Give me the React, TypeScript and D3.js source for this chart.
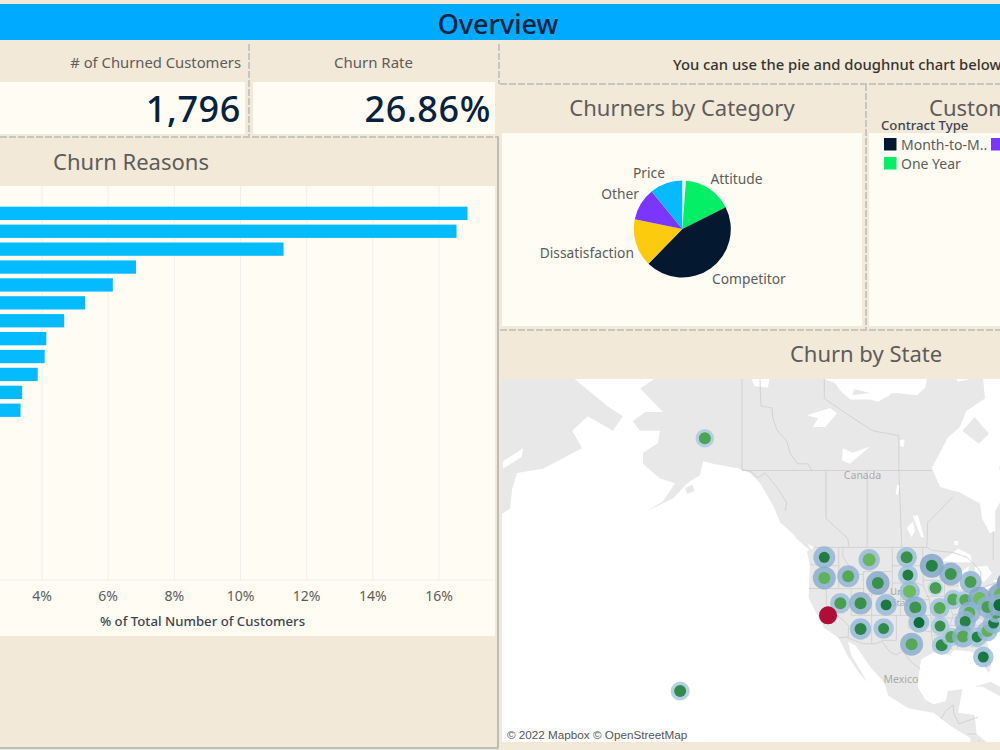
import React, { useEffect, useRef } from 'react';
import * as d3 from 'd3';

// bars (the reason labels sit outside the crop)
const reasonRank = [1, 2, 3, 4, 5, 6, 7, 8, 9, 10, 11, 12];
const reasonShare = [16.86, 16.53, 11.3, 6.84, 6.14, 5.3, 4.67, 4.13, 4.08, 3.87, 3.4, 3.35];
const shareTicks = [4, 6, 8, 10, 12, 14, 16];

const pieCategories = ['', 'Attitude', 'Competitor', 'Dissatisfaction', 'Other', 'Price'];
const pieShare = [1.2, 16.4, 44.7, 15.9, 10.9, 10.9];
const pieColors = ['#fffcf4', '#05ef66', '#04192f', '#fccb0d', '#7b35ff', '#05bbff'];

const states = ['AK', 'HI', 'WA', 'OR', 'ID', 'MT', 'WY', 'NV', 'UT', 'CO', 'AZ', 'NM', 'ND', 'SD', 'NE', 'KS', 'OK', 'TX', 'MN', 'IA', 'WI', 'MO', 'AR', 'LA', 'IL', 'IN', 'MI', 'NY', 'OH', 'PA', 'KY', 'TN', 'MS', 'AL', 'GA', 'FL', 'SC', 'NC', 'VA', 'WV', 'MD', 'CA'];
const stateLon = [-149.5, -155.5, -120.5, -120.5, -114.7, -109.6, -107.5, -116.6, -111.7, -105.5, -111.7, -106.1, -100.5, -100.2, -99.8, -98.4, -97.5, -99.3, -94.4, -93.5, -89.8, -92.5, -92.4, -92, -89.2, -86.3, -85, -75.5, -82.8, -77.8, -85.3, -86.3, -89.7, -86.8, -83.4, -81.9, -80.9, -79.4, -78.8, -80.9, -78, -119.6];
const stateLat = [63.5, 21, 47.4, 43.9, 44.2, 47, 43, 39.3, 39.3, 39, 34.3, 34.4, 47.4, 44.4, 41.5, 38.5, 35.6, 31.2, 46, 42.1, 44.6, 38.4, 34.9, 31, 40, 39.9, 43.2, 42.9, 40.2, 40.9, 37.5, 35.8, 32.7, 32.8, 32.7, 28.5, 33.9, 35.5, 37.5, 38.6, 39, 37];
const stateCustomers = [86, 90, 121, 132, 121, 114, 139, 106, 128, 114, 114, 106, 106, 100, 106, 128, 106, 132, 144, 64, 132, 100, 86, 94, 94, 86, 121, 169, 139, 144, 121, 114, 86, 121, 100, 106, 106, 114, 100, 121, 121, 81];
const stateChurned = [36, 36, 30, 36, 36, 42, 36, 36, 36, 30, 36, 30, 36, 30, 42, 36, 30, 36, 36, 36, 36, 36, 30, 36, 36, 36, 36, 36, 42, 42, 36, 30, 36, 36, 30, 30, 36, 30, 36, 36, 36, 81];
const stateChurnRate = [26, 21, 18, 29, 27, 30, 22, 25, 22, 17, 20, 21, 22, 18, 31, 23, 15, 27, 19, 25, 23, 27, 22, 21, 27, 27, 25, 26, 31, 30, 28, 19, 27, 27, 19, 17, 29, 17, 25, 25, 15, 60];

// basemap outlines as [lon, lat]; longitudes run past -180 so Chukotka stays on the left
const northAmerica: [number, number][] = [[-165, 72], [-156, 73], [-141, 70.5], [-128, 70.5], [-124, 69.7], [-115, 68.5], [-108, 67.9], [-103, 68], [-98, 67.8], [-96, 68.5], [-94, 72], [-88, 69], [-82, 69.5], [-81.5, 67.5], [-86, 66.3], [-87.6, 64.7], [-90.5, 63.6], [-94.4, 60.1], [-92.4, 57.7], [-87.6, 57], [-82.7, 55.5], [-82.2, 53.4], [-80.3, 51.2], [-79, 51.5], [-79, 54.5], [-76.5, 57], [-78, 60], [-77, 62.5], [-72, 61.5], [-70, 59], [-66, 58.8], [-64.5, 60.3], [-60, 55], [-56, 52], [-60, 50], [-66, 50], [-70, 47], [-65, 49], [-64.5, 47], [-61, 46], [-66, 44], [-70, 43.5], [-70, 41.5], [-74, 40.5], [-75.5, 37], [-76, 35], [-78, 34], [-81, 32], [-80, 27], [-80.5, 25], [-82, 27], [-83, 29], [-85, 29.7], [-89, 30], [-90, 29], [-94, 29.5], [-97, 28], [-97.5, 25], [-97.8, 22], [-96, 19], [-94, 18], [-91, 18.7], [-90.5, 21], [-87, 21.5], [-88, 16], [-84, 15.5], [-83.5, 11], [-81, 9], [-78, 9], [-77, 8], [-78, 5], [-85, 5], [-85, 10], [-90, 13], [-94, 16], [-100, 17], [-105, 20], [-106, 23], [-109, 26], [-113, 31], [-114.7, 31.7], [-114, 29], [-110, 23], [-112, 25], [-115, 29], [-117, 32.5], [-120.5, 34.5], [-122.5, 37.5], [-124.3, 40.3], [-124, 46], [-124.7, 48.4], [-123, 49], [-127.1, 50.5], [-131.2, 52.8], [-132.9, 55.2], [-136.1, 58.2], [-138.5, 59.5], [-141, 60], [-147.5, 60.6], [-149.9, 60.9], [-150.7, 59.2], [-153.8, 58.2], [-157.2, 56.2], [-163.5, 54.5], [-159.7, 55.8], [-156.7, 58.2], [-160.4, 58.8], [-164.5, 60.6], [-164.5, 61.9], [-160.9, 63], [-160.4, 64.3], [-165.2, 64.3], [-167, 65.3], [-164, 66.2], [-159.7, 66.2], [-161.6, 67], [-165.2, 68.4], [-162, 69.2]];
const chukotka: [number, number][] = [[-215, 75], [-183, 71], [-181, 69.2], [-173.2, 66.8], [-169.4, 65.8], [-171.8, 64.3], [-177.9, 65.8], [-181.7, 64.3], [-179.3, 62.4], [-188.8, 60], [-195.1, 59.5], [-196.3, 57.4], [-196.8, 54.8], [-198.5, 54.2], [-215, 50]];
const landIslands: [number, number][][] = [
  [[-117, 72], [-117, 69.8], [-103, 69.8], [-100, 72]],
  [[-87, 64.3], [-84, 65.7], [-80.5, 64], [-83, 62.9]],
  [[-84, 22], [-80, 23.1], [-75, 20.5], [-78, 19.9], [-82, 22]],
  [[-128, 50.8], [-124, 48.5], [-123.4, 48.4], [-125, 50]],
  [[-154.3, 57.6], [-152.5, 58], [-152, 57.2], [-153.8, 56.8]],
];
const lakes: [number, number][][] = [
  // Great Bear, Great Slave, Athabasca
  [[-124.7, 65.9], [-119.1, 66.6], [-117.4, 66.1], [-120.3, 64.7], [-123.3, 64.7], [-122, 65.6]],
  [[-116.2, 61], [-116, 62.4], [-113.6, 61.9], [-109.4, 62.6], [-112.6, 61.3], [-114.3, 60.6]],
  [[-110.8, 59.1], [-108.5, 59.6], [-108.3, 59.2]],
  // Arctic channels
  [[-119.1, 69.5], [-113, 68.7], [-113.7, 67.8], [-109.4, 68], [-107, 68.7], [-103.4, 68.8], [-104.6, 67.8], [-107.5, 67.2], [-109.4, 67.4], [-114.2, 67.4], [-116.6, 68.2]],
  [[-138.5, 69.5], [-133.7, 69.5], [-134.2, 68.5], [-137.4, 68.6]],
  // Dubawnt, Reindeer, Winnipeg, Manitoba, Nipigon
  [[-102.2, 63.3], [-101, 63.4], [-101.2, 62.6], [-102, 62.6]],
  [[-102.8, 58], [-102, 57.9], [-102.7, 56.6], [-103.2, 56.8]],
  [[-99, 53.8], [-97.8, 53.9], [-96.3, 50.6], [-97, 50.6]],
  [[-100.5, 52], [-99, 53], [-98.5, 51.6], [-99.3, 50.6]],
  [[-89, 50], [-88, 50], [-88, 49.4], [-88.9, 49.4]],
  // Great Lakes
  [[-92, 46.8], [-88, 48.8], [-85, 47.8], [-84.6, 46.6], [-87.5, 46.6]],
  [[-87.6, 41.8], [-88, 44.5], [-85.3, 46], [-86.4, 43]],
  [[-84, 45.8], [-81, 46], [-79.8, 44.7], [-81.7, 43.2], [-83.5, 43.7]],
  [[-83.3, 41.7], [-79, 42.8], [-79, 42.6], [-82, 41.5]],
  [[-79.7, 43.4], [-76.3, 44], [-76.3, 43.4], [-79, 43.2]],
  // Penzhina Bay
  [[-193.6, 62.4], [-198.5, 60.9], [-198.5, 60], [-194, 61.4]],
];
const borders: [number, number][][] = [
  [[-140.5, 70], [-140.5, 59.9], [-138.5, 59.7], [-136.6, 58.9], [-134.9, 59.5], [-132, 57.7], [-129.6, 55.6], [-130, 54.5]],
  [[-123, 49], [-95.6, 49], [-94.2, 48.5], [-89.3, 48.2], [-85.9, 47.4], [-84.5, 46.5], [-82.5, 45], [-82.5, 42.9], [-83, 42], [-79, 43], [-76.5, 44], [-74.7, 45], [-71.5, 45], [-70, 46.5], [-69, 47.4], [-67.8, 47], [-67.5, 45]],
  [[-140.5, 59.8], [-94.4, 59.8]],
  [[-120.1, 59.8], [-120.1, 53.4], [-114.8, 50.4], [-114.5, 49]],
  [[-110.1, 49], [-110.1, 59.8]],
  [[-102.4, 59.8], [-101.7, 49]],
  [[-95.6, 49], [-95.4, 52.8], [-89.3, 56.4]],
  [[-136.1, 69.2], [-135.9, 66.8], [-133.2, 66.6], [-133, 65.6], [-132, 64.4], [-129.6, 63.2], [-128.8, 61.8], [-126.9, 60.6], [-124.5, 60.6], [-123.5, 59.8]],
  [[-120.5, 69.5], [-120.5, 67.5], [-113.5, 65.6], [-108.7, 64.3], [-102.4, 63.8], [-102.4, 59.8]],
  [[-79.5, 47], [-79.5, 51.5]],
  [[-124, 46.2], [-119, 46], [-117, 46]],
  [[-117, 49], [-117, 42]],
  [[-124.2, 42], [-111, 42]],
  [[-120, 42], [-120, 39], [-114.6, 35], [-114.7, 32.7]],
  [[-114, 42], [-114, 37]],
  [[-114, 37], [-94.6, 37]],
  [[-109, 41], [-109, 31.3]],
  [[-111, 45], [-111, 41], [-102, 41]],
  [[-104, 49], [-104, 41]],
  [[-111, 45], [-104, 45]],
  [[-116, 49], [-116, 47.5], [-114.5, 46], [-113, 44.5], [-111, 44.5]],
  [[-104, 46], [-96.6, 46]],
  [[-104, 43], [-98, 43], [-96.5, 42.5]],
  [[-102, 40], [-95, 40]],
  [[-102, 41], [-102, 37]],
  [[-103, 37], [-103, 32], [-106.6, 32]],
  [[-100, 36.5], [-100, 34.5], [-94.5, 33.7], [-94, 29.7]],
  [[-96.6, 49], [-96.5, 42.5], [-95, 40], [-94.6, 37], [-94.5, 33.7]],
  [[-96.5, 43.5], [-91.2, 43.5]],
  [[-95.8, 40.6], [-91.4, 40.6]],
  [[-94.6, 36.5], [-75.9, 36.5]],
  [[-94, 33], [-91, 33]],
  [[-92, 46.8], [-92.8, 45], [-91.2, 43.5], [-91.4, 40.6], [-89.2, 37], [-90, 35], [-91, 33], [-91.5, 31], [-89.7, 31], [-89.6, 30.2]],
  [[-91.2, 43.5], [-90.6, 42.5], [-87.8, 42.5]],
  [[-87.5, 41.7], [-87.5, 38]],
  [[-89.2, 37], [-86, 38], [-84.8, 39.1], [-82.5, 38.5], [-80.5, 40.6], [-80.5, 42]],
  [[-84.8, 39.1], [-84.8, 41.7], [-83.3, 41.7]],
  [[-90, 35], [-84.3, 35], [-81, 35], [-78.5, 33.9]],
  [[-88.2, 35], [-88.2, 30.3]],
  [[-85.4, 35], [-85, 31], [-84.9, 30.7]],
  [[-87.6, 31], [-85, 31]],
  [[-84.9, 30.7], [-82, 30.6], [-81.5, 30.7]],
  [[-84.3, 35], [-81, 32]],
  [[-84, 36.6], [-80.3, 37.5], [-78, 39.5]],
  [[-80.5, 42], [-79.8, 42], [-75, 42], [-75, 40]],
  [[-80.5, 39.7], [-75.7, 39.7]],
  [[-117, 32.5], [-114.7, 32.7], [-114.8, 32.5], [-111, 31.3], [-108.2, 31.3], [-106.5, 31.8], [-104.5, 29.5], [-103, 29], [-101.4, 29.8], [-99.5, 27.5], [-97.2, 25.9]],
  [[-92.2, 14.5], [-91, 16.5], [-89.2, 17.8], [-89.1, 15.9]],
  [[-89.1, 15.9], [-87.8, 13.4], [-83.2, 15]],
  [[-85.7, 11], [-83.7, 11]],
  [[-82.9, 9.5], [-82.9, 8]],
];

const BEIGE = '#f3e9d8';
const CREAM = '#fffcf4';
const NAVY = '#06223f';
const UI_FONT = '"Noto Sans", sans-serif';

export default function App() {
  const svgRef = useRef<SVGSVGElement>(null);

  useEffect(() => {
    if (!svgRef.current) return;
    const svg = d3.select(svgRef.current);
    svg.selectAll('*').remove();
    svg.attr('viewBox', '0 0 1000 750').style('font-family', UI_FONT);

    const rect = (x: number, y: number, w: number, h: number, fill: string) =>
      svg.append('rect').attr('x', x).attr('y', y).attr('width', w).attr('height', h).attr('fill', fill);
    const label = (g: any, x: number, y: number, t: string, size: number, fill: string, anchor = 'middle') =>
      g.append('text')
        .attr('x', x).attr('y', y)
        .attr('text-anchor', anchor)
        .attr('dominant-baseline', 'central')
        .attr('font-size', size)
        .attr('fill', fill)
        .text(t);
    const dashed = (x1: number, y1: number, x2: number, y2: number) =>
      svg.append('line')
        .attr('x1', x1).attr('y1', y1).attr('x2', x2).attr('y2', y2)
        .attr('stroke', '#c6c6c4').attr('stroke-width', 2).attr('stroke-dasharray', '7 2');

    // Page frame and panels
    rect(0, 0, 1000, 750, BEIGE);
    rect(0, 4, 1000, 36, '#00aaff');
    label(svg, 498, 23, 'Overview', 27, NAVY).attr('font-weight', 500);

    rect(0, 82, 245, 52, CREAM);
    rect(253, 82, 242, 52, CREAM);
    label(svg, 241, 61.5, '# of Churned Customers', 14.8, '#5c5c5c', 'end');
    label(svg, 373.5, 61.5, 'Churn Rate', 15, '#5c5c5c');
    label(svg, 241, 108, '1,796', 36, NAVY, 'end').attr('font-weight', 500).attr('letter-spacing', 0.6);
    label(svg, 491, 108, '26.86%', 36, NAVY, 'end').attr('font-weight', 500).attr('letter-spacing', 0.6);

    rect(0, 186, 495, 450, CREAM);
    label(svg, 131, 160.5, 'Churn Reasons', 22, '#5c5c5c');

    label(svg, 673, 63.5, 'You can use the pie and doughnut chart below', 14.8, '#333333', 'start').attr('font-weight', 500);
    rect(502, 133, 360, 193, CREAM);
    rect(869, 133, 131, 193, CREAM);
    label(svg, 682, 106.5, 'Churners by Category', 22, '#5c5c5c');
    label(svg, 929, 106.5, 'Customers by Contract', 22, '#5c5c5c', 'start');
    label(svg, 866, 353, 'Churn by State', 22, '#5c5c5c');

    dashed(249, 44, 249, 137);
    dashed(499, 44, 499, 84);
    dashed(0, 137, 499, 137);
    dashed(500, 84, 1000, 84);
    dashed(866, 84, 866, 330);
    dashed(500, 330, 1000, 330);
    svg.append('line').attr('x1', 498).attr('y1', 137).attr('x2', 498).attr('y2', 748)
      .attr('stroke', '#bcbcb8').attr('stroke-width', 2);
    svg.append('line').attr('x1', 0).attr('y1', 748).attr('x2', 498).attr('y2', 748)
      .attr('stroke', '#bcbcb8').attr('stroke-width', 2);

    // Bars
    const x = d3.scaleLinear().domain([0, 16]).range([-90.3, 439]);
    const y = d3.scaleBand<number>().domain(reasonRank).range([204.4, 419.2]).paddingInner(0.257).paddingOuter(0.1285);
    const bars = svg.append('g');
    bars.selectAll('line.grid').data(shareTicks).join('line')
      .attr('class', 'grid')
      .attr('x1', (d) => x(d)).attr('x2', (d) => x(d))
      .attr('y1', 186).attr('y2', 580)
      .attr('stroke', '#eef0ec').attr('stroke-width', 1);
    bars.append('line').attr('x1', 0).attr('x2', 495).attr('y1', 580).attr('y2', 580)
      .attr('stroke', '#eef0ec').attr('stroke-width', 1);
    bars.selectAll('rect').data(reasonShare).join('rect')
      .attr('x', x(0))
      .attr('y', (_, i) => y(reasonRank[i]) as number)
      .attr('width', (d) => x(d) - x(0))
      .attr('height', y.bandwidth())
      .attr('fill', '#05bbff');
    shareTicks.forEach((t) => label(bars, x(t), 595.5, `${t}%`, 14, '#5c5c5c'));
    label(bars, 202.5, 620.5, '% of Total Number of Customers', 13.2, '#3c4450').attr('font-weight', 500);

    // Pie
    const pieLayout = d3.pie<number>().sort(null).value((d) => d)(pieShare);
    const arc = d3.arc<d3.PieArcDatum<number>>().innerRadius(0).outerRadius(48.5);
    const pieG = svg.append('g').attr('transform', 'translate(682.3, 229)');
    pieG.selectAll('path').data(pieLayout).join('path')
      .attr('d', arc)
      .attr('fill', (_, i) => pieColors[i]);
    const pieLabelAt: Record<string, [number, number, string]> = {
      Price: [649, 172, 'middle'],
      Attitude: [710.5, 178.5, 'start'],
      Other: [639, 193.5, 'end'],
      Dissatisfaction: [634, 252.5, 'end'],
      Competitor: [712, 278.5, 'start'],
    };
    pieCategories.filter(Boolean).forEach((c) => {
      const [lx, ly, anchor] = pieLabelAt[c];
      label(svg, lx, ly, c, 13.8, '#5c5c5c', anchor);
    });

    // Contract legend
    label(svg, 881, 125, 'Contract Type', 13.2, '#3c4450', 'start').attr('font-weight', 500);
    rect(884, 138, 12.5, 12.5, '#04192f');
    rect(991, 138, 12.5, 12.5, '#7b35ff');
    rect(884, 157, 12.5, 12.5, '#05ef66');
    label(svg, 901, 144.5, 'Month-to-M..', 14, '#5c5c5c', 'start');
    label(svg, 901, 163, 'One Year', 14, '#5c5c5c', 'start');

    // Map
    const defs = svg.append('defs');
    defs.append('clipPath').attr('id', 'map-clip').append('rect')
      .attr('x', 502).attr('y', 379).attr('width', 498).attr('height', 363);
    defs.append('filter').attr('id', 'map-soft').append('feGaussianBlur').attr('stdDeviation', 0.7);
    defs.append('filter').attr('id', 'dot-soft').append('feGaussianBlur').attr('stdDeviation', 0.4);

    const projection = d3.geoMercator().rotate([120.5, 0]).scale(236).translate([824.3, 779.6]);
    const toPath = d3.line<[number, number]>()
      .x((p) => (projection(p) as [number, number])[0])
      .y((p) => (projection(p) as [number, number])[1]);

    const map = svg.append('g').attr('clip-path', 'url(#map-clip)');
    map.append('rect').attr('x', 502).attr('y', 379).attr('width', 498).attr('height', 363).attr('fill', '#ffffff');
    const base = map.append('g').attr('filter', 'url(#map-soft)');
    base.selectAll('path.land').data([northAmerica, chukotka, ...landIslands]).join('path')
      .attr('class', 'land')
      .attr('d', (d) => `${toPath(d)}Z`)
      .attr('fill', '#e8e8e8');
    base.selectAll('path.lake').data(lakes).join('path')
      .attr('class', 'lake')
      .attr('d', (d) => `${toPath(d)}Z`)
      .attr('fill', '#ffffff');
    map.selectAll('path.border').data(borders).join('path')
      .attr('class', 'border')
      .attr('d', (d) => toPath(d))
      .attr('fill', 'none')
      .attr('stroke', '#cdcdcd')
      .attr('stroke-width', 0.8);
    label(map, 862.5, 475, 'Canada', 10.5, '#a8a8a8');
    label(map, 901, 679, 'Mexico', 10.5, '#a8a8a8');
    label(map, 905, 591, 'United', 9.5, '#a8a8a8');
    label(map, 905, 602.5, 'States', 9.5, '#a8a8a8');

    const outerR = d3.scaleSqrt().domain([0, 144]).range([0, 12]);
    const innerR = d3.scaleSqrt().domain([0, 64]).range([0, 8]);
    const outerFill = d3.scaleLinear<string>().domain([64, 144]).range(['#b6d8ec', '#7ea2c8']);
    const rateFill = d3.scaleLinear<string>()
      .domain([15, 31, 32, 60])
      .range(['#0f6e3a', '#6cbb60', '#d8324a', '#b01038']);

    const bubbles = map.append('g').attr('filter', 'url(#dot-soft)');
    states.forEach((s, i) => {
      const [cx, cy] = projection([stateLon[i], stateLat[i]]) as [number, number];
      const g = bubbles.append('g').attr('data-state', s);
      g.append('circle').attr('cx', cx).attr('cy', cy)
        .attr('r', outerR(stateCustomers[i]))
        .attr('fill', outerFill(stateCustomers[i]))
        .attr('fill-opacity', 0.8);
      g.append('circle').attr('cx', cx).attr('cy', cy)
        .attr('r', innerR(stateChurned[i]))
        .attr('fill', rateFill(stateChurnRate[i]));
    });

    map.append('rect').attr('x', 505).attr('y', 727).attr('width', 185).attr('height', 15)
      .attr('fill', '#ffffff').attr('fill-opacity', 0.7);
    label(map, 507, 734.5, '© 2022 Mapbox © OpenStreetMap', 11.7, '#555555', 'start')
      .attr('font-family', '"Liberation Sans", Arial, sans-serif');
  }, []);

  return <svg ref={svgRef} width={1000} height={750} style={{ position: 'fixed', left: 0, top: 0 }} />;
}
